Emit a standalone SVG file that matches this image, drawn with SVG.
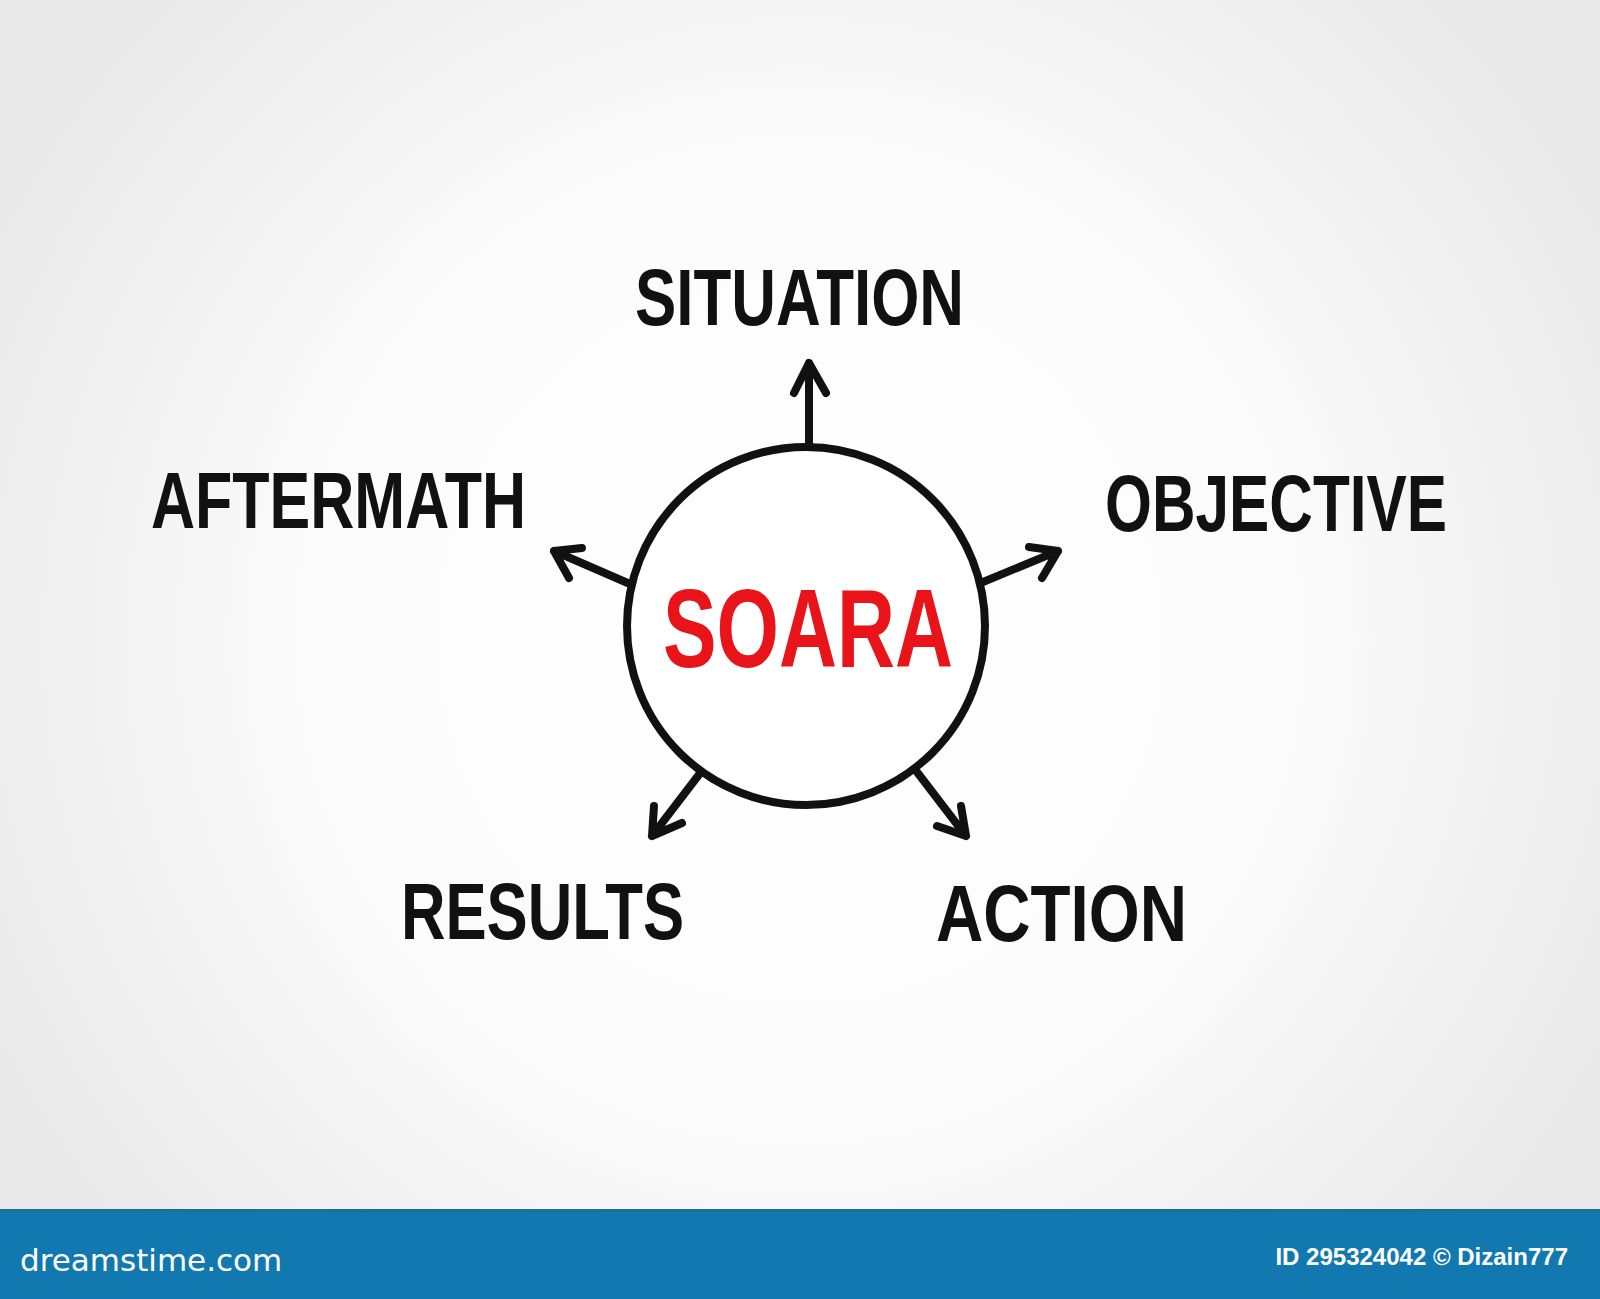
<svg xmlns="http://www.w3.org/2000/svg" width="1600" height="1299" viewBox="0 0 1600 1299">
<defs>
<radialGradient id="bg" cx="800" cy="640" r="900" gradientUnits="userSpaceOnUse">
<stop offset="0" stop-color="#ffffff"/>
<stop offset="0.55" stop-color="#fbfbfb"/>
<stop offset="1" stop-color="#e9e9e9"/>
</radialGradient>
<style>
.lbl{font-family:"Liberation Sans",Arial,sans-serif;font-weight:bold;font-size:80px;fill:#111}
.ln{fill:none;stroke:#111;stroke-width:8;stroke-linecap:round;stroke-linejoin:round}
.ft{font-family:"Liberation Sans",Arial,sans-serif;fill:#fff}
.ft2{font-family:"DejaVu Sans",sans-serif;fill:#fff}
</style>
</defs>
<rect width="1600" height="1299" fill="url(#bg)"/>
<g id="connectors">
<path class="ln" d="M809 448 L809 363 M794 393 L809 363 L826 393"/>
<path class="ln" d="M630 584 L554 551 M582 548 L554 551 L569 578"/>
<path class="ln" d="M983 582 L1058 551 M1029 547 L1058 551 L1042 578"/>
<path class="ln" d="M701 772 L652 836 M654 806 L652 836 L682 823"/>
<path class="ln" d="M917 772 L966 836 M961 806 L966 836 L937 826"/>
</g>
<g id="center">
<circle cx="806" cy="626" r="179" fill="#ffffff" stroke="#111" stroke-width="8"/>
<text x="808" y="667" text-anchor="middle" font-family="Liberation Sans,Arial,sans-serif" font-weight="bold" font-size="112" fill="#e8141a" textLength="290" lengthAdjust="spacingAndGlyphs">SOARA</text>
</g>
<g id="situation"><text class="lbl" x="635" y="325" textLength="329" lengthAdjust="spacingAndGlyphs">SITUATION</text></g>
<g id="aftermath"><text class="lbl" x="151" y="528" textLength="375" lengthAdjust="spacingAndGlyphs">AFTERMATH</text></g>
<g id="objective"><text class="lbl" x="1105" y="531" textLength="342" lengthAdjust="spacingAndGlyphs">OBJECTIVE</text></g>
<g id="results"><text class="lbl" x="401" y="939" textLength="283" lengthAdjust="spacingAndGlyphs">RESULTS</text></g>
<g id="action"><text class="lbl" x="936" y="941" textLength="251" lengthAdjust="spacingAndGlyphs">ACTION</text></g>
<g id="footer">
<rect x="0" y="1209" width="1600" height="90" fill="#1178b0"/>
<rect x="0" y="1209" width="1600" height="3" fill="#1a6f9f"/>
<text class="ft2" x="20" y="1271" font-size="31">dreamstime.com</text>
<text class="ft" x="1568" y="1265" font-size="24" font-weight="bold" text-anchor="end">ID 295324042 © Dizain777</text>
</g>
</svg>
